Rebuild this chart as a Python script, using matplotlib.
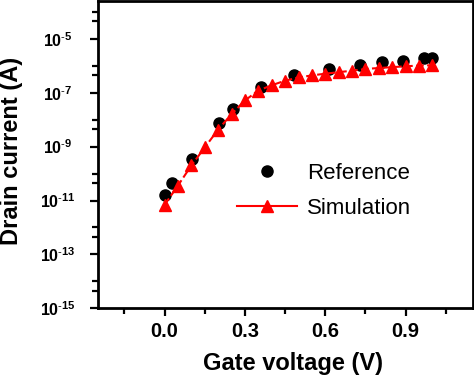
import numpy as np
import matplotlib
matplotlib.use('Agg')
import matplotlib.pyplot as plt
from matplotlib.lines import Line2D
from matplotlib.ticker import FixedLocator, FuncFormatter, NullFormatter

plt.rcParams['font.family'] = ['Liberation Sans', 'DejaVu Sans']
plt.rcParams['mathtext.fontset'] = 'custom'
plt.rcParams['mathtext.rm'] = 'Liberation Sans'
plt.rcParams['mathtext.bf'] = 'Liberation Sans:bold'

# Reference (measured) data
ref_v = [0.0, 0.027, 0.102, 0.204, 0.254, 0.361, 0.485, 0.613, 0.728, 0.813, 0.890, 0.968, 1.0]
ref_i = [1.6e-11, 4.5e-11, 3.5e-10, 7.6e-9, 2.5e-8, 1.6e-7, 4.4e-7, 7.9e-7,
         1.05e-6, 1.4e-6, 1.56e-6, 1.96e-6, 1.96e-6]

# Simulation data
sim_v = [0.0, 0.05, 0.10, 0.15, 0.20, 0.25, 0.30, 0.35, 0.40, 0.45, 0.50,
         0.55, 0.60, 0.65, 0.70, 0.75, 0.80, 0.85, 0.90, 0.95, 1.0]
sim_i = [6.9e-12, 3.6e-11, 2.0e-10, 9.3e-10, 4.3e-9, 1.6e-8, 5.2e-8, 1.2e-7,
         1.9e-7, 2.8e-7, 3.7e-7, 4.4e-7, 5.1e-7, 5.8e-7, 6.6e-7, 7.6e-7,
         8.3e-7, 8.9e-7, 9.6e-7, 1.02e-6, 1.05e-6]

x_ticks = [0.0, 0.3, 0.6, 0.9]
y_exps = [-15, -13, -11, -9, -7, -5]

fig = plt.figure(figsize=(4.74, 3.82), dpi=100)
ax = fig.add_axes([0.206, 0.193, 0.791, 0.804])

ax.plot(sim_v, sim_i, color='red', ls='--', lw=1.5, marker='^', ms=9,
        mec='red', mfc='red', zorder=2)
ax.plot(ref_v, ref_i, ls='none', marker='o', ms=8, color='black', zorder=1)

ax.set_yscale('log')
ax.set_xlim(-0.25, 1.15)
ax.set_ylim(1e-15, 10**-3.6)

ax.xaxis.set_major_locator(FixedLocator(x_ticks))
ax.xaxis.set_minor_locator(FixedLocator([-0.15, 0.15, 0.45, 0.75, 1.05]))
ax.xaxis.set_major_formatter(FuncFormatter(lambda v, p: f'{v:.1f}'))

ax.yaxis.set_major_locator(FixedLocator([10.0**e for e in y_exps]))
minors = []
for e in [-14, -12, -10, -8, -6, -4]:
    minors += [10.0**e, 0.45 * 10.0**e]
ax.yaxis.set_minor_locator(FixedLocator(minors))
ax.yaxis.set_minor_formatter(NullFormatter())
ax.yaxis.set_major_formatter(FuncFormatter(
    lambda v, p: r'$\mathbf{10^{\text{-}%d}}$' % abs(round(np.log10(v)))))

for s in ax.spines.values():
    s.set_linewidth(2)
ax.tick_params(axis='both', which='major', direction='out', length=6, width=1.6)
ax.tick_params(axis='both', which='minor', direction='out', length=4, width=1.6)
ax.tick_params(axis='x', which='major', labelsize=14.5, pad=4)
ax.tick_params(axis='y', which='major', labelsize=11.5, pad=22.5)
for lab in ax.get_xticklabels():
    lab.set_fontweight('bold')
for lab in ax.get_yticklabels():
    lab.set_horizontalalignment('center')

ax.set_xlabel('Gate voltage (V)', fontsize=17, fontweight='bold')
ax.set_ylabel('Drain current (A)', fontsize=17, fontweight='bold')
ax.xaxis.set_label_coords(0.522, -0.141)
ax.yaxis.set_label_coords(-0.199, 0.513)

handles = [
    Line2D([], [], ls='none', marker='o', ms=8, color='black', label='Reference'),
    Line2D([], [], ls='-', lw=1.5, color='red', marker='^', ms=9, label='Simulation'),
]
ax.legend(handles=handles, loc='center left', bbox_to_anchor=(0.371, 0.382),
          frameon=False, fontsize=16, handlelength=2.7, handletextpad=0.45,
          borderpad=0, borderaxespad=0, labelspacing=0.62)

fig.savefig('out.png', dpi=100)
